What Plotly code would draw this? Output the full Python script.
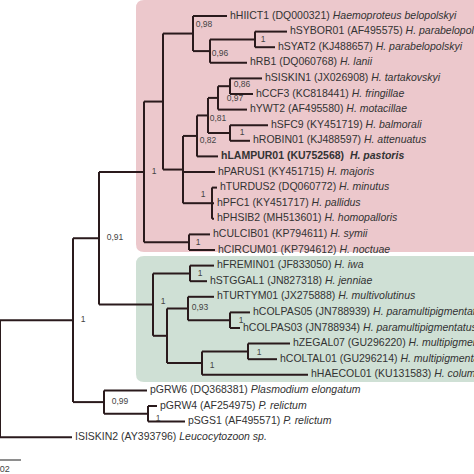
import plotly.graph_objects as go

# ---- data ----
tip_names = ["hHIICT1", "hSYBOR01", "hSYAT2", "hRB1", "hSISKIN1", "hCCF3", "hYWT2", "hSFC9",
             "hROBIN01", "hLAMPUR01", "hPARUS1", "hTURDUS2", "hPFC1", "hPHSIB2", "hCULCIB01",
             "hCIRCUM01", "hFREMIN01", "hSTGGAL1", "hTURTYM01", "hCOLPAS05", "hCOLPAS03",
             "hZEGAL07", "hCOLTAL01", "hHAECOL01", "pGRW6", "pGRW4", "pSGS1", "ISISKIN2"]
tip_acc = ["DQ000321", "AF495575", "KJ488657", "DQ060768", "JX026908", "KC818441", "AF495580",
           "KY451719", "KJ488597", "KU752568", "KY451715", "DQ060772", "KY451717", "MH513601",
           "KP794611", "KP794612", "JF833050", "JN827318", "JX275888", "JN788939", "JN788934",
           "GU296220", "GU296214", "KU131583", "DQ368381", "AF254975", "AF495571", "AY393796"]
tip_species = ["Haemoproteus belopolskyi", "H. parabelopolskyi", "H. parabelopolskyi", "H. lanii",
               "H. tartakovskyi", "H. fringillae", "H. motacillae", "H. balmorali", "H. attenuatus",
               "H. pastoris", "H. majoris", "H. minutus", "H. pallidus", "H. homopalloris",
               "H. symii", "H. noctuae", "H. iwa", "H. jenniae", "H. multivolutinus",
               "H. paramultipigmentatus", "H. paramultipigmentatus", "H. multipigmentatus",
               "H. multipigmentatus", "H. columbae", "Plasmodium elongatum", "P. relictum",
               "P. relictum", "Leucocytozoon sp."]
tip_depth = [227, 287, 275, 247, 262, 253, 247, 268, 250, 218, 215, 217, 214, 214, 210, 215,
             214, 207, 214, 250, 240, 290, 277, 308, 147, 157, 185, 72]
tip_parent = ["N098", "NSYB", "NSYB", "N096", "N086", "N086", "N097", "NSFC", "NSFC", "N082",
              "E", "NTUR", "NTUR", "NTUR", "NCUL", "NCUL", "NFRE", "NFRE", "N093", "NCOLP",
              "NCOLP", "NZEG2", "NZEG2", "NZEG", "NGRW", "NGRW2", "NGRW2", "root"]

node_names = ["root", "D", "C", "B", "A", "N098", "N096", "NSYB", "E", "N082", "N081", "N097",
              "N086", "NSFC", "NTUR", "NCUL", "G", "NFRE", "H", "N093", "NCOLP", "NZEG", "NZEG2",
              "NGRW", "NGRW2"]
node_parent = [None, "root", "D", "C", "B", "A", "N098", "N096", "A", "E", "N082", "N081",
               "N097", "N081", "E", "B", "C", "G", "G", "H", "N093", "H", "NZEG", "D", "NGRW"]
node_depth = [0, 73, 99, 144, 163, 193, 210, 255, 183, 197, 208, 218, 230, 230, 212, 189, 153,
              190, 167, 188, 230, 202, 248, 104, 148]
node_support = [None, "1", "0,91", "1", None, "0,98", "0,96", "1", None, "0,82", "0,81", "0,97",
                "0,86", "1", "1", "1", "1", "1", None, "0,93", "1", "1", "1", "0,99", "1"]

# ---- layout helpers (styles) ----
row0, row_step = 16, 15.6
label_off = {"D": (10, 0), "C": (16, 0), "B": (10, 0), "N098": (11, -9), "N096": (10, 3),
             "NSYB": (8, 0), "N082": (11, 5), "N081": (10, 3), "N097": (17, 1), "N086": (12, -1),
             "NSFC": (12, 0), "NTUR": (-9, -8), "NCUL": (9, 1), "G": (10, -3), "NFRE": (10, 0),
             "N093": (12, -1), "NCOLP": (11, 1), "NZEG": (10, 3), "NZEG2": (11, 1),
             "NGRW": (16, 0), "NGRW2": (10, 5)}

x = {}; y = {}; children = {n: [] for n in node_names}
for n, p, d in zip(node_names, node_parent, node_depth):
    x[n] = d
    if p: children[p].append(n)
for i, (n, p, d) in enumerate(zip(tip_names, tip_parent, tip_depth)):
    x[n] = d; y[n] = row0 + row_step * i; children[p].append(n)

def gety(n):
    if n not in y:
        ys = [gety(c) for c in children[n]]
        y[n] = (min(ys) + max(ys)) / 2
    return y[n]
gety("root")

parent_of = dict(zip(node_names, node_parent)); parent_of.update(dict(zip(tip_names, tip_parent)))
lx, ly = [], []
for n, p in parent_of.items():
    if p is None: continue
    lx += [x[p], x[n], None]; ly += [y[n], y[n], None]
for n in node_names:
    ys = [y[c] for c in children[n]]
    lx += [x[n], x[n], None]; ly += [min(ys), max(ys), None]
lx += [-5, 0, None]; ly += [y["root"], y["root"], None]

fig = go.Figure()
ink = "#2a1a1c"
def rbox(x0, y0, x1, y1, r=8):
    return (f"M{x0+r},{y0} L{x1-r},{y0} Q{x1},{y0} {x1},{y0+r} L{x1},{y1-r} Q{x1},{y1} {x1-r},{y1} "
            f"L{x0+r},{y1} Q{x0},{y1} {x0},{y1-r} L{x0},{y0+r} Q{x0},{y0} {x0+r},{y0} Z")
fig.add_shape(type="path", path=rbox(136, 0, 490, 252), fillcolor="#ecc8cc", line_width=0, layer="below")
fig.add_shape(type="path", path=rbox(136, 256, 490, 382), fillcolor="#cfe0d5", line_width=0, layer="below")

fig.add_trace(go.Scatter(x=lx, y=ly, mode="lines", line=dict(color=ink, width=2), hoverinfo="skip"))

labels = []
for n, a, s in zip(tip_names, tip_acc, tip_species):
    if n == "hLAMPUR01":
        labels.append(f"<b>{n} ({a})  <i>{s}</i></b>")
    else:
        labels.append(f"{n} ({a}) <i>{s}</i>")
fig.add_trace(go.Scatter(x=[x[n] + 3 for n in tip_names], y=[y[n] for n in tip_names], mode="text",
                         text=labels, textposition="middle right", cliponaxis=False,
                         textfont=dict(family="Liberation Sans, Arial", size=10.5, color="#333"),
                         hoverinfo="skip"))
sx, sy, st = [], [], []
for n, s in zip(node_names, node_support):
    if s is None: continue
    dx, dy = label_off.get(n, (8, 0))
    sx.append(x[n] + dx); sy.append(y[n] + dy); st.append(s)
fig.add_trace(go.Scatter(x=sx, y=sy, mode="text", text=st, textposition="middle center",
                         textfont=dict(family="Liberation Sans, Arial", size=8.5, color="#444"),
                         hoverinfo="skip"))
fig.add_trace(go.Scatter(x=[0, 21], y=[460, 460], mode="lines", line=dict(color="#444", width=1.2),
                         hoverinfo="skip"))
fig.add_trace(go.Scatter(x=[1], y=[470], mode="text", text=["0,02"], textposition="middle center",
                         textfont=dict(family="Liberation Sans, Arial", size=9, color="#444"),
                         hoverinfo="skip"))

fig.update_layout(width=474, height=474, margin=dict(l=0, r=0, t=0, b=0), showlegend=False,
                  plot_bgcolor="white", paper_bgcolor="white",
                  xaxis=dict(range=[0, 474], visible=False, fixedrange=True),
                  yaxis=dict(range=[474, 0], visible=False, fixedrange=True))
fig.write_html("out.html", config={"displayModeBar": False},
               post_script="document.body.style.margin='0';document.body.style.overflow='hidden';")
